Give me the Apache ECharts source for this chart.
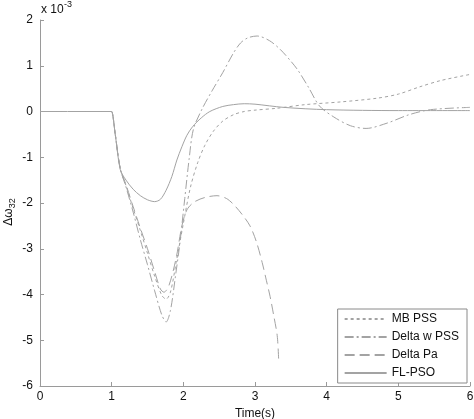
<!DOCTYPE html>
<html><head><meta charset="utf-8">
<script src="https://cdn.jsdelivr.net/npm/echarts@6/dist/echarts.min.js"></script>
<style>html,body{margin:0;padding:0;background:#fff}#c{width:474px;height:419px}</style>
</head><body><div id="c"></div>
<script>
var seriesNames = ['MB PSS', 'Delta w PSS', 'Delta Pa', 'FL-PSO'];
var xTicks = [0, 1, 2, 3, 4, 5, 6];
var yTicks = [-6, -5, -4, -3, -2, -1, 0, 1, 2];
// values in units of 1e-3, pairs [time (s), value]
var mbPss = [[0,0],[0.99,0],[1,0],[1.05,-0.5],[1.12,-1.25],[1.2,-1.62],[1.3,-2.12],[1.4,-2.6],[1.5,-3.1],[1.6,-3.6],[1.7,-4.02],[1.76,-4.1],[1.82,-3.95],[1.9,-3.3],[2.0,-2.45],[2.1,-1.65],[2.2,-1.12],[2.3,-0.74],[2.42,-0.43],[2.55,-0.21],[2.7,-0.07],[2.85,0.0],[3.0,0.03],[3.3,0.07],[3.7,0.15],[4.2,0.21],[4.7,0.29],[5.0,0.38],[5.3,0.54],[5.6,0.68],[6,0.81]];
var deltaWPss = [[0,0],[0.99,0],[1,0],[1.05,-0.5],[1.12,-1.25],[1.2,-1.65],[1.3,-2.2],[1.4,-2.8],[1.5,-3.35],[1.6,-3.92],[1.7,-4.45],[1.76,-4.6],[1.82,-4.35],[1.89,-3.6],[1.95,-2.9],[2.02,-1.9],[2.08,-1.05],[2.14,-0.39],[2.26,0.05],[2.4,0.45],[2.55,0.85],[2.7,1.28],[2.8,1.5],[2.9,1.61],[3.03,1.65],[3.2,1.55],[3.35,1.36],[3.5,1.1],[3.6,0.9],[3.75,0.52],[3.9,0.12],[4.1,-0.12],[4.33,-0.31],[4.55,-0.37],[4.85,-0.25],[5.15,-0.07],[5.45,0.04],[6,0.09]];
var deltaPa = [[0,0],[0.99,0],[1,0],[1.05,-0.5],[1.12,-1.25],[1.2,-1.6],[1.3,-2.08],[1.4,-2.55],[1.5,-3.0],[1.6,-3.5],[1.68,-3.88],[1.73,-3.95],[1.8,-3.8],[1.9,-3.2],[1.98,-2.5],[2.05,-2.15],[2.15,-1.98],[2.3,-1.88],[2.47,-1.84],[2.6,-1.9],[2.7,-2.03],[2.82,-2.25],[2.93,-2.5],[3.02,-2.85],[3.1,-3.3],[3.16,-3.7],[3.21,-4.04],[3.26,-4.45],[3.31,-4.9],[3.33,-5.42]];
var flPso = [[0,0],[0.99,0],[1,0],[1.05,-0.5],[1.12,-1.27],[1.2,-1.5],[1.3,-1.7],[1.4,-1.84],[1.5,-1.93],[1.6,-1.97],[1.68,-1.92],[1.76,-1.72],[1.84,-1.42],[1.91,-1.06],[1.98,-0.77],[2.05,-0.52],[2.13,-0.33],[2.25,-0.14],[2.37,0.0],[2.55,0.11],[2.7,0.15],[2.85,0.17],[3.0,0.16],[3.4,0.09],[4.0,0.04],[5.0,0.02],[6,0.02]];

var lineColor = '#a3a3a3';
var styles = [[3,3],[9,3,2,3],[10,5],'solid'];
var datasets = [mbPss, deltaWPss, deltaPa, flPso];
var ff = 'Liberation Sans, Arial, sans-serif';
var chart = echarts.init(document.getElementById('c'));
chart.setOption({
  animation: false,
  backgroundColor: '#fff',
  textStyle: { fontFamily: ff },
  grid: { left: 40, right: 4, top: 20, bottom: 33, outerBoundsMode: 'none', containLabel: false },
  xAxis: {
    type: 'value', min: xTicks[0], max: xTicks[xTicks.length-1], interval: 1,
    name: 'Time(s)', nameLocation: 'middle', nameGap: 20,
    nameTextStyle: { color: '#111', fontSize: 12 },
    axisLine: { onZero: false, lineStyle: { color: '#9a9a9a' } },
    axisTick: { inside: true, length: 4, lineStyle: { color: '#9a9a9a' } },
    axisLabel: { color: '#111', fontSize: 12, margin: 5 },
    splitLine: { show: false }
  },
  yAxis: {
    type: 'value', min: yTicks[0], max: yTicks[yTicks.length-1], interval: 1,
    axisLine: { show: true, onZero: false, lineStyle: { color: '#9a9a9a' } },
    axisTick: { show: true, inside: true, length: 4, lineStyle: { color: '#9a9a9a' } },
    axisLabel: { color: '#111', fontSize: 12, margin: 7 },
    splitLine: { show: false }
  },
  graphic: [{
    type: 'text', left: 41, top: 4,
    style: { text: 'x 10', fontSize: 12, fill: '#111', fontFamily: ff }
  }, {
    type: 'text', left: 64, top: 0,
    style: { text: '-3', fontSize: 9, fill: '#111', fontFamily: ff }
  }, {
    type: 'text', x: 9, y: 212, rotation: Math.PI / 2,
    style: {
      text: '{a|Δω}{s|32}', align: 'center', verticalAlign: 'middle', fontFamily: ff,
      rich: { a: { fontSize: 12, fill: '#111', fontFamily: ff }, s: { fontSize: 9, fill: '#111', fontFamily: ff, padding: [7, 0, 0, 0] } }
    }
  }],
  legend: {
    data: seriesNames, orient: 'vertical', right: 7, bottom: 36,
    itemWidth: 42, itemHeight: 12, itemGap: 6,
    padding: [4, 8, 4, 6],
    borderColor: '#8a8a8a', borderWidth: 1, backgroundColor: '#fff',
    itemStyle: { opacity: 0 },
    textStyle: { color: '#111', fontSize: 12 }
  },
  series: datasets.map(function (d, i) {
    return {
      name: seriesNames[i], type: 'line', data: d, showSymbol: false, symbol: 'none',
      smooth: 0.3, color: lineColor,
      lineStyle: { color: lineColor, width: 1, type: styles[i] }
    };
  })
});
</script></body></html>
